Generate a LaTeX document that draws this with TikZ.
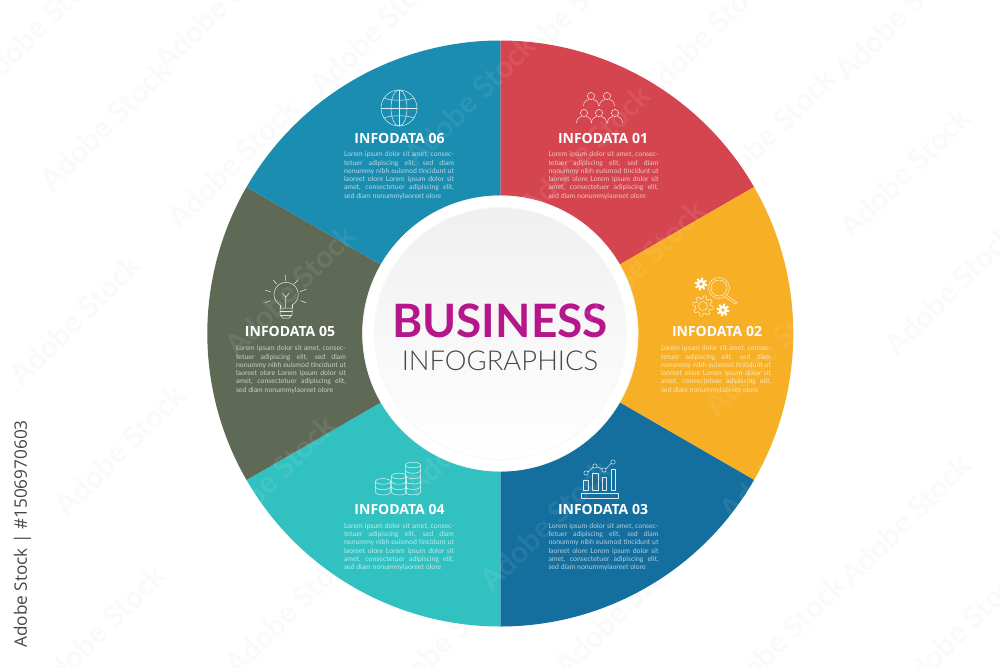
\documentclass[tikz,border=0pt]{standalone}
\usepackage{fontspec}
\setmainfont{Lato}
\newfontfamily\headfont{Open Sans}
\newfontfamily\lightfont{Lato Light}
\usetikzlibrary{calc}
\definecolor{sectorred}{HTML}{D5454F}
\definecolor{sectoryellow}{HTML}{F7AF25}
\definecolor{sectornavy}{HTML}{146E9E}
\definecolor{sectorteal}{HTML}{32C1C1}
\definecolor{sectorolive}{HTML}{5E6A56}
\definecolor{sectorblue}{HTML}{1A8DB0}
\definecolor{titlemagenta}{HTML}{B5178B}
\newcommand{\loremtext}{\hyphenpenalty=10000 Lorem ipsum dolor sit amet, consec-\break tetuer adipiscing elit, sed diam\break nonummy nibh euismod tincidunt ut\break laoreet olore Lorem ipsum dolor sit\break amet, consectetuer adipiscing elit,\break sed diam nonummylaoreet olore}
\tikzset{
	infotitle/.style={text=white, font=\headfont\fontsize{14}{16}\selectfont\bfseries, inner sep=0pt},
	infobody/.style={text=white, text opacity=0.68, text width=110pt, align=justify, inner sep=0pt, font=\fontsize{6.9}{8.3}\selectfont},
	iconline/.style={draw=white, draw opacity=0.85, line width=0.5pt, line cap=round, line join=round},
	stockmark/.style={rotate=45, inner sep=0pt, font=\bfseries\fontsize{30}{32}\selectfont},
}

\begin{document}
\begin{tikzpicture}[x=1pt, y=-1pt]
	\useasboundingbox (0,0) rectangle (1000,667);
	\fill[white] (0,0) rectangle (1000,667);
	
	% pale marks on the paper
	\foreach \mx/\my [count=\mk] in {40/25, 220/5, 375/30, 565/15, 705/35, 900/15, 105/125, 233/163, 770/133,
		905/172, 75/320, 950/290, 120/450, 905/520, 100/630, 290/610, 445/640, 620/610, 780/640, 960/630}
	\node[stockmark, text=black!2] (paper\mk) at (\mx,\my) {Adobe Stock};
	
	%========================
	% Ring of six sectors
	%========================
	\coordinate (mid) at (500.3,333.5);
	\foreach \colr/\angA/\angB in {sectorred/-90/-30, sectoryellow/-30/30, sectornavy/30/90,
		sectorteal/90/150, sectorolive/150/210, sectorblue/210/270}
	\fill[\colr] (mid) -- ++(\angA:293) arc[start angle=\angA, end angle=\angB, radius=293] -- cycle;
	
	% labels of the sectors
	\foreach \idx/\tx/\ty/\bx/\by in {1/603/138.5/603.5/175.5, 2/717/331.5/716/369.5, 3/603/509.5/603.5/547,
		4/399.5/509.5/399/547, 5/290/331.5/291/369.5, 6/399.5/138/399/175.5}
	{
		\node[infotitle] (title\idx) at (\tx,\ty) {INFODATA 0\idx};
		\node[infobody] (body\idx) at (\bx,\by) {\loremtext};
	}
	
	%========================
	% Centre disc
	%========================
	\fill[white] (mid) circle (138);
	\draw[black!5, line width=0.6pt] (mid) circle (137.6);
	\shade[top color=black!6, bottom color=white, draw=black!3, line width=0.8pt] (mid) circle (126);
	\node[inner sep=0pt, text=titlemagenta, font=\fontsize{46}{50}\selectfont\bfseries] (maintitle) at (500,320.5) {BUSINESS};
	\node[inner sep=0pt, text=black!72, font=\lightfont\fontsize{27.4}{30}\selectfont] (subtitle) at (500,360.5) {INFOGRAPHICS};
	
	%========================
	% Icons
	%========================
	% 01: people
	\foreach \px/\py in {591/96, 607/96, 584/113, 599/113, 615/113}
	{
		\draw[iconline] (\px,\py) circle (3.6);
		\draw[iconline] (\px-7.5,\py+10) .. controls (\px-7.5,\py+5) and (\px-4,\py+4) .. (\px-2.5,\py+3.5);
		\draw[iconline] (\px+7.5,\py+10) .. controls (\px+7.5,\py+5) and (\px+4,\py+4) .. (\px+2.5,\py+3.5);
	}
	
	% 02: gears and magnifier
	\draw[iconline] (719,288) circle (10.5);
	\draw[iconline] (719,288) circle (8);
	\draw[iconline] (727,295.5) -- (737,302.5) -- (735,304) -- (725,297);
	\foreach \gx/\gy in {701/284, 723/310}
	{
		\fill[white] plot[domain=0:360, samples=97] ({\gx+(5.2+1.2*sign(sin(8*\x)))*cos(\x)}, {\gy+(5.2+1.2*sign(sin(8*\x)))*sin(\x)}) -- cycle;
		\fill[sectoryellow] (\gx,\gy) circle (1.8);
	}
	\draw[iconline] plot[domain=0:360, samples=97] ({703+(8.8+1.4*sign(sin(8*\x)))*cos(\x)}, {306+(8.8+1.4*sign(sin(8*\x)))*sin(\x)}) -- cycle;
	\draw[iconline] (703,306) circle (4.5);
	
	% 03: bars and trend line
	\draw[iconline] (581,493) rectangle (618,498);
	\foreach \barl/\barr/\bartop in {583/588/480, 592/598/473, 602/606/477, 611/615/469}
	\draw[iconline] (\barl,490) -- (\barl,\bartop) -- (\barr,\bartop) -- (\barr,490) -- cycle;
	\draw[iconline] (586,473) circle (2.2) (595,466) circle (2.2) (604,470) circle (2.2) (613,462) circle (2.2);
	\draw[iconline] (588,472) -- (593,467.2) (597,466.8) -- (602,469.2) (606,468.8) -- (611,463.4);
	
	% 04: coins
	\foreach \cx/\ctop/\clayers in {383/481.4/2, 399/476/3, 413/465/5}
	{
		\draw[iconline] (\cx,\ctop) ellipse (7.5 and 2.8);
		\foreach \clay in {1,...,\clayers}
		\draw[iconline] (\cx-7.5,\ctop+\clay*5.4-5.4) -- (\cx-7.5,\ctop+\clay*5.4)
		arc[start angle=180, end angle=0, x radius=7.5, y radius=2.8] -- (\cx+7.5,\ctop+\clay*5.4-5.4);
	}
	
	% 05: light bulb
	\draw[iconline] (280,305) arc[start angle=120, end angle=420, radius=12.2] -- (292,305);
	\draw[iconline] (280,305) -- (280,308) (292,305) -- (292,308);
	\draw[iconline] (280,308) -- (292,308) -- (292,315) -- (289,318) -- (283,318) -- (280,315) -- cycle;
	\draw[iconline] (280,311.5) -- (292,311.5) (281,315) -- (291,315);
	\draw[iconline] (285.7,308) -- (285.7,297) -- (282.5,293.5) (285.7,297) -- (289,293.5);
	\draw[iconline] (273.3,280) -- (276.7,284) (285.7,275) -- (285.7,280.5) (298.3,279.5) -- (294.3,284)
	(306,289.3) -- (300,291.7) (306,302.7) -- (300.7,300.7) (265,290) -- (270.7,292) (265,302.7) -- (270.7,300.7);
	
	% 06: globe
	\draw[iconline] (399,108) circle (18);
	\draw[iconline] (399,108) ellipse (8 and 18);
	\draw[iconline] (399,90) -- (399,126) (381,108) -- (417,108);
	\draw[iconline] (384,98) .. controls (392,101) and (406,101) .. (414,98);
	\draw[iconline] (384,118) .. controls (392,115) and (406,115) .. (414,118);
	
	% pale marks across the colours
	\foreach \mx/\my [count=\mk] in {470/100, 290/290, 640/265, 585/150, 270/480, 470/430, 770/350, 785/455, 545/525}
	\node[stockmark, text=white, text opacity=0.08] (over\mk) at (\mx,\my) {Adobe Stock};
	
	%========================
	% Stock line at the left edge
	%========================
	\node[rotate=90, inner sep=0pt, text=black!72, font=\headfont\fontsize{17.2}{20}\selectfont] (stockline) at (22.5,534) {Adobe Stock | \#1506970603};
\end{tikzpicture}
\end{document}
